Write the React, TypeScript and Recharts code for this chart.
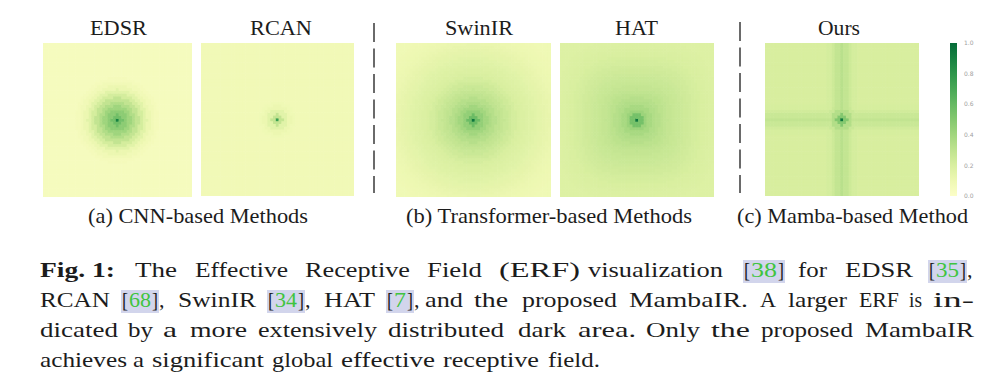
import React from 'react';
import { ScatterChart, Scatter, XAxis, YAxis, BarChart, Bar } from 'recharts';

// ---------- data ----------
const METHODS = ['EDSR', 'RCAN', 'SwinIR', 'HAT', 'Ours'];
const GROUP_LABELS = ['(a) CNN-based Methods', '(b) Transformer-based Methods', '(c) Mamba-based Method'];
const COLORBAR_TICKS = [0, 0.2, 0.4, 0.6, 0.8, 1.0];

// ERF profiles: value by distance from the centre, sampled every 4 px
const EDSR_PROFILE = [0.9, 0.56, 0.47, 0.41, 0.35, 0.29, 0.22, 0.16, 0.11, 0.08, 0.06, 0.05];
const RCAN_PROFILE = [0.75, 0.28, 0.16, 0.11, 0.09, 0.08];
const SWINIR_PROFILE = [0.95, 0.58, 0.45, 0.4, 0.36, 0.33, 0.3, 0.28, 0.26, 0.24, 0.22, 0.2, 0.19, 0.18, 0.17, 0.16, 0.15, 0.14, 0.13, 0.12, 0.11, 0.105, 0.1, 0.095, 0.09];
const HAT_PROFILE = [0.95, 0.55, 0.42, 0.38, 0.35, 0.33, 0.31, 0.295, 0.28, 0.27, 0.26, 0.25, 0.24, 0.23, 0.22, 0.21, 0.2, 0.195, 0.19, 0.185, 0.18];
const OURS_CENTER = [0.95, 0.5, 0.34, 0.26, 0.2];
const OURS_VBAND = [0.32, 0.285, 0.245, 0.22, 0.205];
const OURS_HBAND = [0.29, 0.26, 0.23, 0.21, 0.2];
const OURS_BACKGROUND = [0.2];

const COLOR_STOPS = [
  '#fcfec8', '#eef8b3', '#d9efa0', '#bfe38f', '#a2d67e', '#84c86f',
  '#66b963', '#48a856', '#2e964b', '#178141', '#056b38',
];

// ---------- helpers ----------
const N = 55;
const C = (N - 1) / 2;
const STEP = 4;

const pick = (p: number[], d: number) => p[Math.min(p.length - 1, Math.round(d / STEP))];

function hexToRgb(h: string) {
  return [parseInt(h.slice(1, 3), 16), parseInt(h.slice(3, 5), 16), parseInt(h.slice(5, 7), 16)];
}
function colorOf(v: number) {
  const t = Math.max(0, Math.min(1, v)) * (COLOR_STOPS.length - 1);
  const i = Math.min(COLOR_STOPS.length - 2, Math.floor(t));
  const f = t - i;
  const a = hexToRgb(COLOR_STOPS[i]);
  const b = hexToRgb(COLOR_STOPS[i + 1]);
  const c = a.map((x, k) => Math.round(x + (b[k] - x) * f));
  return `rgb(${c[0]},${c[1]},${c[2]})`;
}

function buildGrid(size: number, valueAt: (dx: number, dy: number) => number) {
  const cell = size / N;
  const cells: { x: number; y: number; v: number }[] = [];
  for (let i = 0; i < N; i++) {
    for (let j = 0; j < N; j++) {
      cells.push({ x: i + 0.5, y: j + 0.5, v: valueAt((i - C) * cell, (j - C) * cell) });
    }
  }
  return cells;
}

const radial = (p: number[]) => (dx: number, dy: number) => pick(p, Math.sqrt(dx * dx + dy * dy));
const squarish = (p: number[]) => (dx: number, dy: number) =>
  pick(p, Math.pow(Math.pow(Math.abs(dx), 3) + Math.pow(Math.abs(dy), 3), 1 / 3));
const cross = (dx: number, dy: number) =>
  Math.max(
    pick(OURS_CENTER, Math.sqrt(dx * dx + dy * dy)),
    pick(OURS_VBAND, Math.abs(dx)),
    pick(OURS_HBAND, Math.abs(dy)),
    OURS_BACKGROUND[0],
  );

// ---------- layout ----------
const MAPS = [
  { x: 43, y: 43, w: 149, h: 154 },
  { x: 201, y: 43, w: 153, h: 153 },
  { x: 396, y: 43, w: 155, h: 154 },
  { x: 560, y: 43, w: 154, h: 154 },
  { x: 765, y: 43, w: 154, h: 153 },
];

const GRIDS = [
  buildGrid(150, radial(EDSR_PROFILE)),
  buildGrid(150, radial(RCAN_PROFILE)),
  buildGrid(150, radial(SWINIR_PROFILE)),
  buildGrid(150, squarish(HAT_PROFILE)),
  buildGrid(150, cross),
];

const TITLES = [
  { x0: 90, x1: 147 },
  { x0: 250, x1: 312 },
  { x0: 445, x1: 513 },
  { x0: 615, x1: 658 },
  { x0: 818, x1: 860 },
];
const GROUPS = [
  { x0: 88, x1: 308 },
  { x0: 406, x1: 692 },
  { x0: 737, x1: 968 },
];

type Word = { t?: string; cite?: string; after?: string; x0: number; x1: number; bold?: boolean };
const CAPTION: { base: number; words: Word[] }[] = [
  {
    base: 277,
    words: [
      { t: 'Fig. 1:', x0: 40, x1: 115, bold: true },
      { t: 'The', x0: 135, x1: 177 },
      { t: 'Effective', x0: 195, x1: 288 },
      { t: 'Receptive', x0: 305, x1: 410 },
      { t: 'Field', x0: 427, x1: 482 },
      { t: '(ERF)', x0: 499, x1: 580 },
      { t: 'visualization', x0: 588, x1: 723 },
      { cite: '38', x0: 744, x1: 784 },
      { t: 'for', x0: 798, x1: 827 },
      { t: 'EDSR', x0: 845, x1: 913 },
      { cite: '35', after: ',', x0: 929, x1: 966 },
    ],
  },
  {
    base: 307,
    words: [
      { t: 'RCAN', x0: 40, x1: 110 },
      { cite: '68', after: ',', x0: 122, x1: 158 },
      { t: 'SwinIR', x0: 178, x1: 256 },
      { cite: '34', after: ',', x0: 268, x1: 304 },
      { t: 'HAT', x0: 324, x1: 375 },
      { cite: '7', after: ',', x0: 387, x1: 413 },
      { t: 'and', x0: 425, x1: 463 },
      { t: 'the', x0: 474, x1: 508 },
      { t: 'proposed', x0: 522, x1: 617 },
      { t: 'MambaIR.', x0: 629, x1: 748 },
      { t: 'A', x0: 760, x1: 776 },
      { t: 'larger', x0: 788, x1: 847 },
      { t: 'ERF', x0: 859, x1: 899 },
      { t: 'is', x0: 909, x1: 922 },
      { t: 'in-', x0: 933, x1: 974 },
    ],
  },
  {
    base: 337,
    words: [
      { t: 'dicated', x0: 40, x1: 118 },
      { t: 'by', x0: 128, x1: 153 },
      { t: 'a', x0: 163, x1: 177 },
      { t: 'more', x0: 190, x1: 247 },
      { t: 'extensively', x0: 258, x1: 377 },
      { t: 'distributed', x0: 388, x1: 504 },
      { t: 'dark', x0: 518, x1: 566 },
      { t: 'area.', x0: 578, x1: 636 },
      { t: 'Only', x0: 646, x1: 700 },
      { t: 'the', x0: 711, x1: 750 },
      { t: 'proposed', x0: 761, x1: 853 },
      { t: 'MambaIR', x0: 865, x1: 974 },
    ],
  },
  {
    base: 367,
    words: [
      { t: 'achieves', x0: 40, x1: 127 },
      { t: 'a', x0: 133, x1: 144 },
      { t: 'significant', x0: 152, x1: 264 },
      { t: 'global', x0: 272, x1: 333 },
      { t: 'effective', x0: 341, x1: 435 },
      { t: 'receptive', x0: 443, x1: 539 },
      { t: 'field.', x0: 548, x1: 600 },
    ],
  },
];

const SERIF = 'Liberation Serif, Times New Roman, Times, DejaVu Serif, serif';
const INK = '#1c1c1c';
const BRACKET = 6;

function Heatmap({ data, w, h }: { data: { x: number; y: number; v: number }[]; w: number; h: number }) {
  const cw = w / N;
  const ch = h / N;
  return (
    <ScatterChart width={w} height={h} margin={{ top: 0, right: 0, bottom: 0, left: 0 }}>
      <XAxis type="number" dataKey="x" domain={[0, N]} hide />
      <YAxis type="number" dataKey="y" domain={[0, N]} hide />
      <Scatter
        data={data}
        isAnimationActive={false}
        shape={(p: any) => {
          const v = p.payload ? p.payload.v : p.v;
          return (
            <rect
              x={p.cx - cw / 2 - 0.3}
              y={p.cy - ch / 2 - 0.3}
              width={cw + 0.6}
              height={ch + 0.6}
              fill={colorOf(v)}
            />
          );
        }}
      />
    </ScatterChart>
  );
}

function Colorbar() {
  return (
    <BarChart
      width={28}
      height={161}
      data={[{ name: 'cb', v: 1 }]}
      margin={{ top: 4, right: 0, bottom: 4, left: 0 }}
      barCategoryGap={0}
    >
      <defs>
        <linearGradient id="cbGrad" x1="0" y1="1" x2="0" y2="0">
          {COLOR_STOPS.map((c, i) => (
            <stop key={i} offset={i / (COLOR_STOPS.length - 1)} stopColor={c} />
          ))}
        </linearGradient>
      </defs>
      <XAxis dataKey="name" hide />
      <YAxis
        orientation="right"
        domain={[0, 1]}
        ticks={COLORBAR_TICKS}
        width={21}
        axisLine={false}
        tickLine={false}
        tickMargin={1}
        tick={{ fontSize: 6, fill: '#a0a0a0', fontFamily: 'DejaVu Sans' }}
        tickFormatter={(v: number) => v.toFixed(1)}
        interval={0}
      />
      <Bar dataKey="v" fill="url(#cbGrad)" isAnimationActive={false} />
    </BarChart>
  );
}

export default function App() {
  return (
    <div style={{ position: 'absolute', left: 0, top: 0, width: 1000, height: 383, background: '#fff', overflow: 'hidden' }}>
      {MAPS.map((m, i) => (
        <div key={i} style={{ position: 'absolute', left: m.x, top: m.y }}>
          <Heatmap data={GRIDS[i]} w={m.w} h={m.h} />
        </div>
      ))}
      <div style={{ position: 'absolute', left: 950, top: 39 }}>
        <Colorbar />
      </div>
      <svg width={1000} height={383} style={{ position: 'absolute', left: 0, top: 0, pointerEvents: 'none', fontFamily: SERIF }}>
        {METHODS.map((name, i) => (
          <text
            key={name}
            x={TITLES[i].x0}
            y={35}
            style={{ fontFamily: SERIF }}
            fontSize={21}
            fill={INK}
            textLength={TITLES[i].x1 - TITLES[i].x0}
            lengthAdjust="spacingAndGlyphs"
          >
            {name}
          </text>
        ))}
        {GROUP_LABELS.map((g, i) => (
          <text
            key={g}
            x={GROUPS[i].x0}
            y={223}
            style={{ fontFamily: SERIF }}
            fontSize={21}
            fill={INK}
            textLength={GROUPS[i].x1 - GROUPS[i].x0}
            lengthAdjust="spacingAndGlyphs"
          >
            {g}
          </text>
        ))}
        <line x1={374} y1={23} x2={374} y2={193} stroke="#6a6a6a" strokeWidth={2} strokeDasharray="19 6.5" />
        <line x1={740} y1={22} x2={740} y2={193} stroke="#6a6a6a" strokeWidth={2} strokeDasharray="19 6.5" />
        {CAPTION.map((line, li) => (
          <g key={li}>
            {line.words.map((w, wi) =>
              w.cite ? (
                <g key={wi}>
                  <rect x={w.x0 - 1} y={line.base - 17} width={w.x1 - w.x0 + 2} height={23} fill="#d2d5ec" />
                  <text
                    x={w.x0}
                    y={line.base}
                    style={{ fontFamily: SERIF }}
                    fontSize={22}
                    fill={INK}
                    textLength={BRACKET}
                    lengthAdjust="spacingAndGlyphs"
                  >
                    [
                  </text>
                  <text
                    x={w.x0 + BRACKET + 1}
                    y={line.base}
                    style={{ fontFamily: SERIF }}
                    fontSize={22}
                    fill="#3fc43f"
                    textLength={w.x1 - w.x0 - 2 * BRACKET - 2}
                    lengthAdjust="spacingAndGlyphs"
                  >
                    {w.cite}
                  </text>
                  <text
                    x={w.x1 - BRACKET}
                    y={line.base}
                    style={{ fontFamily: SERIF }}
                    fontSize={22}
                    fill={INK}
                    textLength={BRACKET}
                    lengthAdjust="spacingAndGlyphs"
                  >
                    ]
                  </text>
                  {w.after ? (
                    <text x={w.x1 + 1} y={line.base} style={{ fontFamily: SERIF }} fontSize={22} fill={INK}>{w.after}</text>
                  ) : null}
                </g>
              ) : (
                <text
                  key={wi}
                  x={w.x0}
                  y={line.base}
                  style={{ fontFamily: SERIF }}
                  fontSize={22}
                  fontWeight={w.bold ? 700 : 400}
                  fill={INK}
                  textLength={w.x1 - w.x0}
                  lengthAdjust="spacingAndGlyphs"
                >
                  {w.t}
                </text>
              ),
            )}
          </g>
        ))}
      </svg>
    </div>
  );
}
